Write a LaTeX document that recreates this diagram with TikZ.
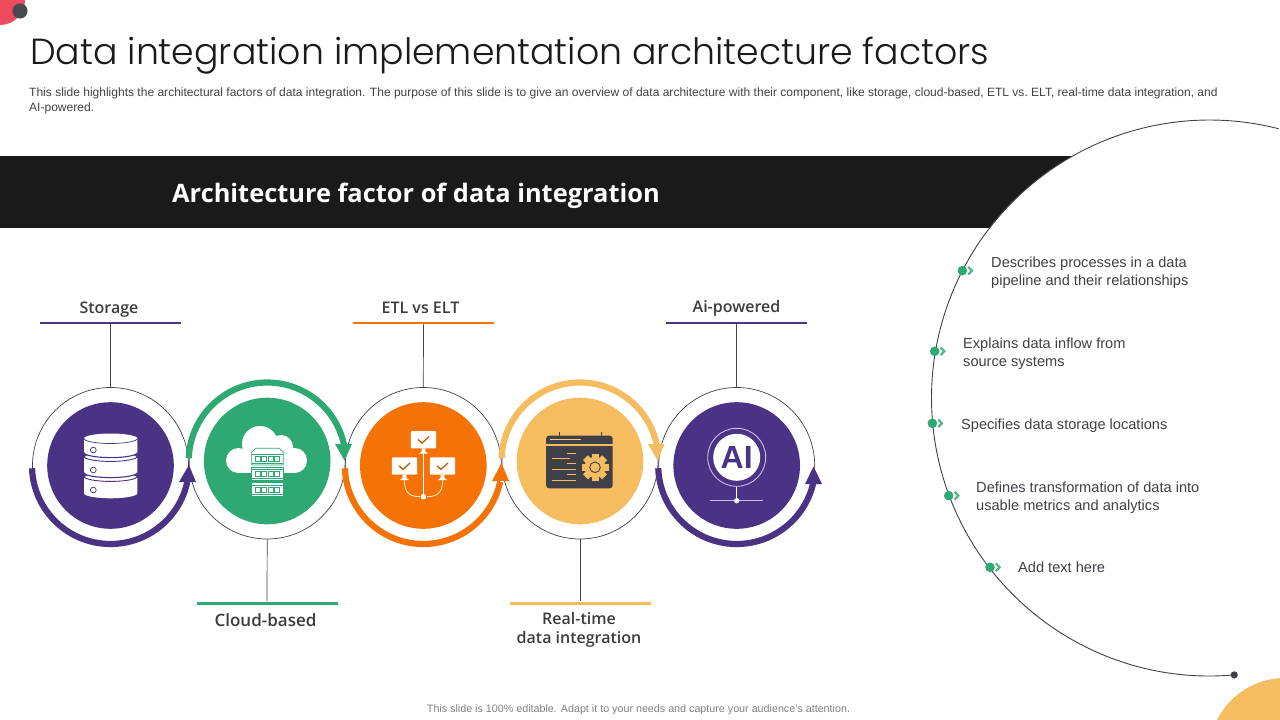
\documentclass[tikz,border=0pt]{standalone}
\usepackage{fontspec}
\setmainfont{Liberation Sans}
\newfontfamily\opensans{Open Sans}
\newfontfamily\opensemi[UprightFont=* Semibold]{Open Sans}
\newfontfamily\titlefont[UprightFont=* Light]{Poppins}
\definecolor{cpurple}{HTML}{4A3384}
\definecolor{cgreen}{HTML}{2FA974}
\definecolor{corange}{HTML}{F57206}
\definecolor{cgold}{HTML}{F5BC60}
\definecolor{cdark}{HTML}{404048}
\definecolor{cband}{HTML}{1A1A1A}
\definecolor{cred}{HTML}{EE4B5F}
\definecolor{clav}{HTML}{CDBEE8}
\tikzset{
  ringnode/.style={circle,draw=cdark,line width=0.7pt,minimum size=156pt,inner sep=0pt},
  disknode/.style={circle,minimum size=126.6pt,inner sep=0pt},
  barnode/.style={rectangle,minimum width=141pt,minimum height=2.2pt,inner sep=0pt},
  stemline/.style={draw=cdark,line width=0.7pt},
  headlabel/.style={font=\opensemi\fontsize{16}{19}\selectfont,text=cband!85!white,align=center,inner sep=0pt},
  sidetext/.style={font=\fontsize{14.6}{18}\selectfont,text=cdark,align=left,anchor=west,inner sep=0pt},
  thickarc/.style={line width=6.2pt},
  scrn/.style={fill=white,rounded corners=0.8pt},
  chk/.style={draw=corange!85!black,line width=1.4pt},
  srv/.style={fill=white,draw=cgreen,line width=0.7pt},
}
\begin{document}
\begin{tikzpicture}[x=1pt,y=1pt]
\useasboundingbox (0,-720) rectangle (1280,0);
% corners
\fill[cred] (0,0) circle (25);
\fill[cdark!85!gray] (20,-11) circle (7.6);
\fill[cgold] (1285,-754) circle (76);
% band and big circle
\fill[cband] (0,-156) rectangle (1100,-228);
\node[circle,fill=white,minimum size=556pt,inner sep=0pt] (bigc) at (1209.5,-398) {};
\draw[cdark,line width=0.9pt] (bigc.center) ++(275.1:278) coordinate (bigend) arc[start angle=275.1,end angle=75.6,radius=278];
\fill[cdark] (bigend) circle (3.6);
% texts top
\node[anchor=west,inner sep=0pt,font=\titlefont\fontsize{36.3}{36}\selectfont,text=cband] (title) at (30,-55.5) {Data integration implementation architecture factors};
\node[anchor=west,inner sep=0pt,font=\fontsize{12.03}{15}\selectfont,text=cdark,align=left] (sub) at (29,-101) {This slide highlights the architectural factors of data integration. The purpose of this slide is to give an overview of data architecture with their component, like storage, cloud-based, ETL vs.\ ELT, real-time data integration, and\\AI-powered.};
\node[anchor=west,inner sep=0pt,font=\opensans\bfseries\fontsize{25.4}{26}\selectfont,text=white] (head) at (172,-196) {Architecture factor of data integration};
\node[inner sep=0pt,font=\fontsize{10.73}{12}\selectfont,text=gray] (foot) at (638.5,-709.5) {This slide is 100\% editable. Adapt it to your needs and capture your audience's attention.};
% rings
\node[ringnode] (ring1) at (110.5,-465.5) {};
\node[ringnode] (ring2) at (267.2,-461) {};
\node[ringnode] (ring3) at (423.3,-465.5) {};
\node[ringnode] (ring4) at (580,-461) {};
\node[ringnode] (ring5) at (736.7,-465.5) {};
\node[disknode,fill=cpurple] (disk1) at (ring1) {};
\node[disknode,fill=cgreen] (disk2) at (ring2) {};
\node[disknode,fill=corange] (disk3) at (ring3) {};
\node[disknode,fill=cgold] (disk4) at (ring4) {};
\node[disknode,fill=cpurple] (disk5) at (ring5) {};
% thick arcs and heads
\draw[cpurple,thickarc] ([shift={(182:78.5)}]ring1.center) arc[start angle=182,end angle=348,radius=78.5];
\fill[cpurple] (189,-465) -- (196,-482) -- (179,-482) -- cycle;
\draw[cgreen,thickarc] ([shift={(178:78.5)}]ring2.center) arc[start angle=178,end angle=12,radius=78.5];
\fill[cgreen] (344.5,-460.5) -- (352,-444) -- (335,-444) -- cycle;
\draw[corange,thickarc] ([shift={(182:78.5)}]ring3.center) arc[start angle=182,end angle=348,radius=78.5];
\fill[corange] (501.5,-463) -- (509,-481) -- (492,-481) -- cycle;
\draw[cgold,thickarc] ([shift={(178:78.5)}]ring4.center) arc[start angle=178,end angle=12,radius=78.5];
\fill[cgold] (657.5,-460.5) -- (664.5,-444) -- (648,-444) -- cycle;
\draw[cpurple,thickarc] ([shift={(182:78.5)}]ring5.center) arc[start angle=182,end angle=348,radius=78.5];
\fill[cpurple] (813.5,-466.5) -- (822,-484) -- (805,-484) -- cycle;
% bars, stems, labels
\node[barnode,fill=cpurple] (bar1) at (110.5,-323) {};
\node[barnode,fill=corange] (bar3) at (423.5,-323) {};
\node[barnode,fill=cpurple] (bar5) at (736.7,-323) {};
\node[barnode,fill=cgreen,minimum height=3pt] (bar2) at (267,-603) {};
\node[barnode,fill=cgold,minimum height=3pt] (bar4) at (580,-603) {};
\draw[stemline] (bar1.south) -- (ring1.north);
\draw[stemline] (bar3.south) -- (ring3.north);
\draw[stemline] (bar5.south) -- (ring5.north);
\draw[stemline] (ring2.south) -- (bar2.north);
\draw[stemline] (ring4.south) -- (bar4.north);
\node[headlabel] (lab1) at (109,-309.5) {Storage};
\node[headlabel] (lab3) at (420.5,-307.5) {ETL vs ELT};
\node[headlabel] (lab5) at (736.5,-308.5) {Ai-powered};
\node[headlabel,font=\opensemi\fontsize{17}{19}\selectfont] (lab2) at (265.5,-620.5) {Cloud-based};
\node[headlabel] (lab4) at (579,-630) {Real-time\\data integration};
% database icon
\begin{scope}
\foreach \t/\b in {-433.5/-458, -453/-478, -473/-498.3}{
  \fill[white] (84,\t-5) -- (84,\b+5) arc[start angle=180,end angle=360,x radius=26.65,y radius=5] -- (137.3,\t-5) arc[start angle=0,end angle=180,x radius=26.65,y radius=5] -- cycle;
}
\foreach \b in {-458,-478}{
  \draw[cpurple,line width=1.1pt] (84,\b+5.4) arc[start angle=180,end angle=360,x radius=26.65,y radius=5];
  \draw[cpurple,line width=0.9pt] (84,\b+1.6) arc[start angle=180,end angle=360,x radius=26.65,y radius=5];
}
\draw[cpurple,line width=0.7pt] (84,-438.5) arc[start angle=180,end angle=360,x radius=26.65,y radius=5];
\foreach \y in {-450,-470,-490}{\draw[cdark!60!cpurple,line width=0.7pt] (93.3,\y) circle (2.9);}
\end{scope}
% cloud icon
\fill[white] (238.5,-460.5) circle (12.5);
\fill[white] (294.5,-460.5) circle (12.5);
\fill[white] (260,-444) circle (18);
\fill[white] (281,-447) circle (12);
\fill[white] (238.5,-473) rectangle (294.5,-450);
\filldraw[srv] (251.7,-465) -- (251.7,-452) -- (256,-448.3) -- (279,-448.3) -- (283.3,-452) -- (283.3,-465) -- cycle;
\filldraw[srv] (251.7,-467.3) rectangle (283.3,-480);
\filldraw[srv] (251.7,-482.7) rectangle (283.3,-496.7);
\foreach \y in {-458.3,-473.5,-489.5}{
  \draw[cgreen,line width=0.5pt] (252,\y+4.5) -- (283,\y+4.5) (252,\y-4.5) -- (283,\y-4.5);
  \foreach \x in {255,261.4,267.8,274.2}{\draw[cgreen,line width=0.6pt] (\x,\y+2.5) rectangle ++(5.3,-5);}
}
% ETL icon
\foreach \cx/\cy in {423.5/-439.7, 404.5/-466, 442.5/-466}{
  \fill[scrn] (\cx-12.6,\cy+8.6) rectangle (\cx+12.6,\cy-8.6);
  \draw[chk] (\cx-5.5,\cy+0.2) -- (\cx-1.5,\cy-3.4) -- (\cx+5.5,\cy+3);
  \fill[white] (\cx-1.8,\cy-8.6) -- (\cx+1.8,\cy-8.6) -- (\cx+1.8,\cy-11.8) -- (\cx+4.6,\cy-14) -- (\cx-4.6,\cy-14) -- (\cx-1.8,\cy-11.8) -- cycle;
}
\draw[white,line width=0.9pt] (423.4,-453) -- (423.4,-497);
\draw[cgold!40!white,line width=0.9pt] (404.4,-480) .. controls (404.4,-491) and (408,-496.7) .. (420,-496.7);
\draw[cgold!40!white,line width=0.9pt] (442.6,-480) .. controls (442.6,-491) and (439,-496.7) .. (427,-496.7);
\fill[white] (423.4,-496.7) circle (2.8);
% calendar icon
\fill[cdark,rounded corners=3pt] (546,-435.7) rectangle (612.7,-488.3);
\draw[cdark,line width=1pt] (559,-431.7) -- (559,-436) (601,-431.7) -- (601,-436);
\draw[cgold,line width=1.1pt] (546,-445) -- (612.7,-445);
\draw[cgold!80!white,line width=1.3pt] (550,-439.8) -- (580.7,-439.8);
\foreach \a/\b/\y in {567/576/453.6,552/570/458.6,567/576/463.6,552/576/469,567/576/474.5,552/576/480}{
  \draw[cgold,line width=1pt] (\a,-\y) -- (\b,-\y);
}
\foreach \ang in {0,45,...,315}{
  \fill[cgold,rotate around={\ang:(595,-467.3)}] (591.5,-467.3) rectangle (598.5,-453.8);
}
\fill[cgold] (595,-467.3) circle (10.5);
\draw[cdark,line width=0.9pt] (595,-467.3) circle (5.3);
% AI icon
\draw[clav,line width=0.9pt] (736.7,-457.3) circle (29);
\node[circle,fill=white,minimum size=47pt,inner sep=0pt,text=cpurple,font=\bfseries\fontsize{32}{32}\selectfont] (ailogo) at (736.7,-457.3) {AI};
\draw[clav,line width=1pt] (710,-500.7) -- (763,-500.7);
\draw[white,line width=1pt] (736.7,-487) -- (736.7,-500);
\fill[white] (736.7,-500.7) circle (2.7);
% bullets
\foreach \x/\y in {962.3/270.7,934.7/351.3,932.3/423.3,948.7/495.7,990/567.3}{
  \fill[cgreen] (\x,-\y) circle (4.8);
  \draw[cgreen!85!white,line width=2.2pt] (\x+6,-\y+3.8) -- (\x+9.6,-\y) -- (\x+6,-\y-3.8);
}
\node[sidetext] (t1) at (991,-273) {Describes processes in a data\\pipeline and their relationships};
\node[sidetext] (t2) at (963,-354) {Explains data inflow from\\source systems};
\node[sidetext] (t3) at (961,-425.5) {Specifies data storage locations};
\node[sidetext] (t4) at (976,-497.5) {Defines transformation of data into\\usable metrics and analytics};
\node[sidetext] (t5) at (1018,-567) {Add text here};
\end{tikzpicture}
\end{document}
